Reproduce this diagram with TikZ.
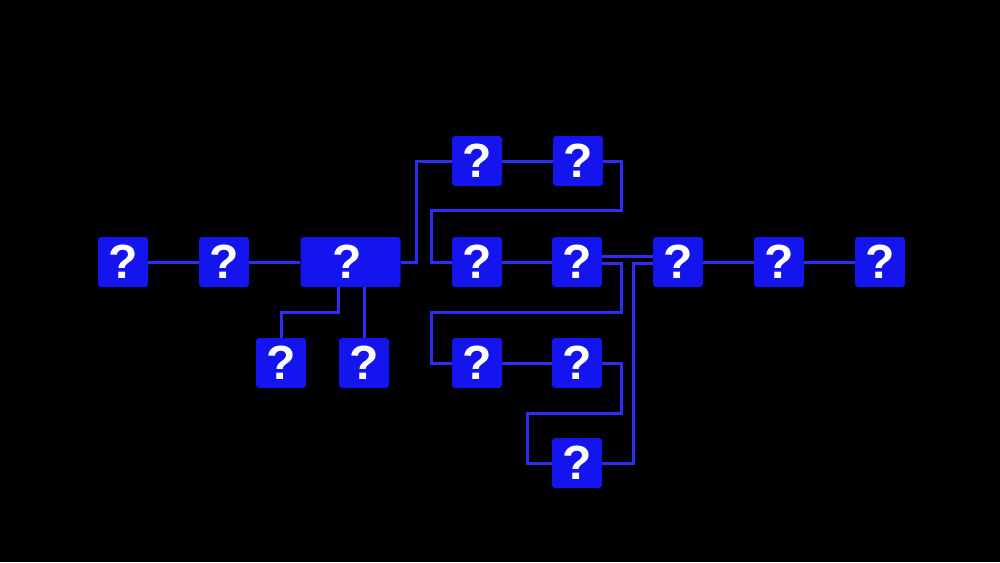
\documentclass[tikz,border=0pt]{standalone}
\usepackage{fontspec}
\setmainfont{Liberation Sans}
\definecolor{qblue}{RGB}{20,20,238}
\definecolor{wblue}{RGB}{45,45,245}
\begin{document}
\begin{tikzpicture}[x=1pt,y=-1pt,
  qbox/.style={fill=qblue, rounded corners=3pt, minimum width=50pt, minimum height=50pt,
    inner sep=0pt, text=white, font=\fontsize{48}{48}\selectfont\bfseries},
  wire/.style={draw=wblue, line width=3pt}]
\useasboundingbox (0,0) rectangle (1000,562);
\fill[black] (0,0) rectangle (1000,562);
% nodes
\node[qbox] (A) at (123,262) {?};
\node[qbox] (B) at (224,262) {?};
\node[qbox, minimum width=100pt] (C) at (350.5,262) {\hspace*{-6pt}?};
\node[qbox] (D) at (281,363) {?};
\node[qbox] (E) at (364,363) {?};
\node[qbox] (F) at (477,161) {?};
\node[qbox] (G) at (578,161) {?};
\node[qbox] (H) at (477,262) {?};
\node[qbox] (I) at (577,262) {?};
\node[qbox] (J) at (678,262) {?};
\node[qbox] (K) at (779,262) {?};
\node[qbox] (L) at (880,262) {?};
\node[qbox] (M) at (477,363) {?};
\node[qbox] (N) at (577,363) {?};
\node[qbox] (O) at (577,463) {?};
% connectors
\draw[wire] (A.east) -- (B.west);
\draw[wire] (B.east) -- (C.west);
\draw[wire] (C.east) -- ++(16,0) |- (F.west);
\draw[wire] (F.east) -- (G.west);
\draw[wire] (G.east) -- ++(18,0) -- ++(0,49) -| ([xshift=-20pt]H.west) -- (H.west);
\draw[wire] (H.east) -- (I.west);
\draw[wire] ([yshift=6pt]I.east) -- ([yshift=6pt]J.west);
\draw[wire] ([yshift=-1pt]I.east) -- ++(19,0) -- ++(0,49) -| ([xshift=-20pt]M.west) -- (M.west);
\draw[wire] (M.east) -- (N.west);
\draw[wire] (N.east) -- ++(19,0) -- ++(0,50) -| ([xshift=-24pt]O.west) -- (O.west);
\draw[wire] (O.east) -- ++(31,0) |- ([yshift=-1pt]J.west);
\draw[wire] (J.east) -- (K.west);
\draw[wire] (K.east) -- (L.west);
\draw[wire] ([xshift=-12pt]C.south) -- ++(0,25) -| (D.north);
\draw[wire] (E.north |- C.south) -- (E.north);
\end{tikzpicture}
\end{document}
